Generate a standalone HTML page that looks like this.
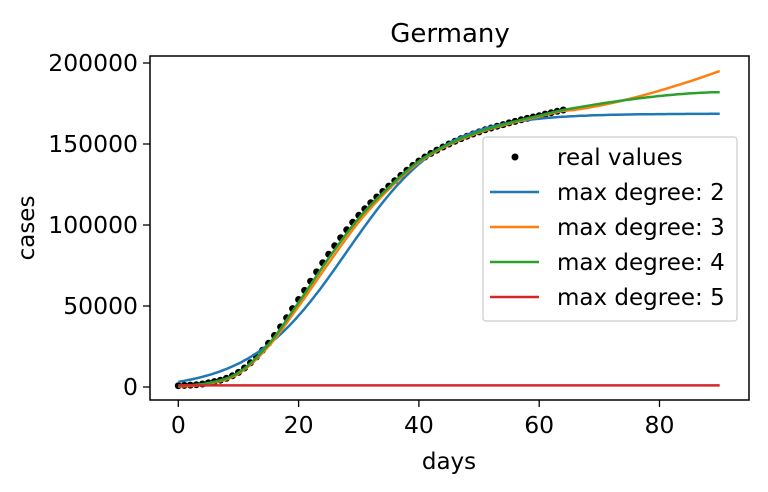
<!DOCTYPE html>
<html><head><meta charset="utf-8"><style>
body{margin:0;background:#fff}
svg{font-family:"DejaVu Sans","Liberation Sans",sans-serif;display:block}
</style></head><body>
<svg id="s" width="768" height="492" xmlns="http://www.w3.org/2000/svg">
<rect width="768" height="492" fill="#fff"/>
<text x="450" y="42" font-size="26" text-anchor="middle">Germany</text>
<g id="plot"></g>
<rect x="150" y="56" width="599" height="344" fill="none" stroke="#000" stroke-width="1.5"/>
<g font-size="23.5" text-anchor="end">
<text x="138" y="395">0</text>
<text x="138" y="314">50000</text>
<text x="138" y="233">100000</text>
<text x="138" y="152">150000</text>
<text x="138" y="71">200000</text>
</g>
<g stroke="#000" stroke-width="1.3">
<line x1="143" x2="150" y1="387" y2="387"/><line x1="143" x2="150" y1="306" y2="306"/>
<line x1="143" x2="150" y1="225" y2="225"/><line x1="143" x2="150" y1="144" y2="144"/>
<line x1="143" x2="150" y1="63" y2="63"/>
<line x1="178.3" x2="178.3" y1="400" y2="407"/><line x1="298.6" x2="298.6" y1="400" y2="407"/>
<line x1="418.9" x2="418.9" y1="400" y2="407"/><line x1="539.2" x2="539.2" y1="400" y2="407"/>
<line x1="659.5" x2="659.5" y1="400" y2="407"/>
</g>
<g font-size="23.5" text-anchor="middle">
<text x="178.3" y="433">0</text><text x="298.6" y="433">20</text><text x="418.9" y="433">40</text>
<text x="539.2" y="433">60</text><text x="659.5" y="433">80</text>
</g>
<text x="449" y="469" font-size="23" text-anchor="middle">days</text>
<text transform="translate(34,228) rotate(-90)" font-size="23" text-anchor="middle">cases</text>
<rect x="483" y="137" width="254" height="184" rx="3" fill="#fff" fill-opacity="0.8" stroke="#ccc" stroke-width="1.2"/>
<circle cx="515" cy="157" r="3.5" fill="#000"/>
<line x1="490" x2="539" y1="192" y2="192" stroke="#1f77b4" stroke-width="2.5"/>
<line x1="490" x2="539" y1="227" y2="227" stroke="#ff7f0e" stroke-width="2.5"/>
<line x1="490" x2="539" y1="262" y2="262" stroke="#2ca02c" stroke-width="2.5"/>
<line x1="490" x2="539" y1="297" y2="297" stroke="#d62728" stroke-width="2.5"/>
<g font-size="23">
<text x="557" y="165">real values</text>
<text x="557" y="200">max degree: 2</text>
<text x="557" y="235">max degree: 3</text>
<text x="557" y="270">max degree: 4</text>
<text x="557" y="305">max degree: 5</text>
</g>
</svg>
<script>
var X=d=>178.3+6.015*d, Y=v=>387-v*0.00162;
var P=[[-5,500],[0,800],[5,2500],[10,9000],[15,27000],[20,54000],[25,82000],[30,106000],[35,124000],[40,139500],[45,150000],[50,157500],[55,163000],[60,167500],[64,171000],[68,174000]];
function cr(d){for(var i=1;i<P.length-2;i++){if(d<=P[i+1][0]){var p0=P[i-1][1],p1=P[i][1],p2=P[i+1][1],p3=P[i+2][1];var t=(d-P[i][0])/(P[i+1][0]-P[i][0]);return 0.5*((2*p1)+(-p0+p2)*t+(2*p0-5*p1+4*p2-p3)*t*t+(-p0+3*p1-3*p2+p3)*t*t*t);}}return 171000;}
function bump(d){return Math.exp(-Math.pow((d-25)/9,2));}
function path(f,c,w){var s="";for(var d=0;d<=90;d+=0.5){s+=(d?"L":"M")+X(d).toFixed(1)+","+Y(f(d)).toFixed(1);}return '<path d="'+s+'" fill="none" stroke="'+c+'" stroke-width="'+w+'"/>';}
function fit3(d){if(d<=64){return cr(d)-5000*bump(d)-500;}var b=cr(64)-500;var t=(d-64)/26;return b+(195000-b)*Math.pow(t,1.4);}
function fit4(d){if(d<=64){return cr(d)-2500*bump(d);}var b=cr(64);var t=(d-64)/26;return b+(182000-b)*(1-Math.pow(1-t,1.6));}
function fit2(d){return 170500/(1+Math.exp(-0.125*(d-28)))-1800;}
var h="";
for(var d=0;d<=64;d++)h+='<circle cx="'+X(d).toFixed(1)+'" cy="'+Y(cr(d)).toFixed(1)+'" r="3.5" fill="#000"/>';
h+=path(fit2,"#1f77b4",2.5)+path(fit3,"#ff7f0e",2.5)+path(fit4,"#2ca02c",2.5)+path(d=>1000,"#d62728",2.5);
document.getElementById("plot").innerHTML=h;
</script>
</body></html>
